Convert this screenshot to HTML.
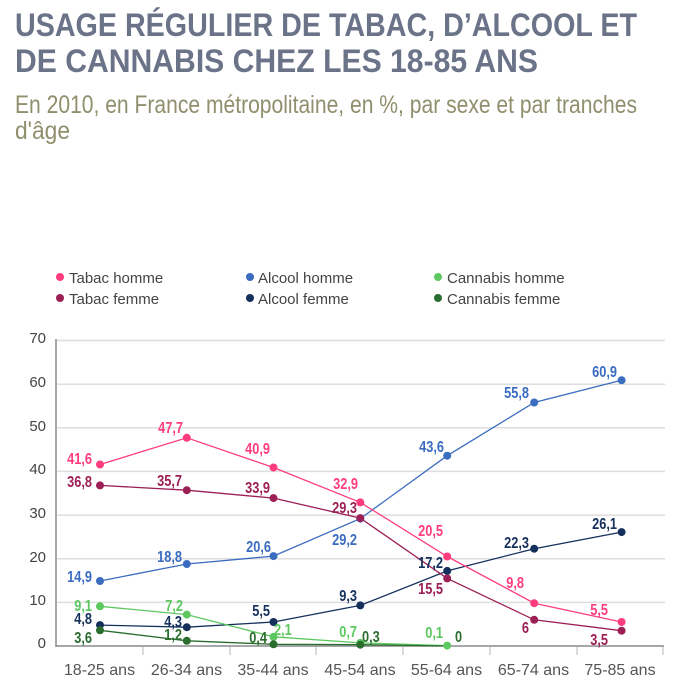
<!DOCTYPE html>
<html>
<head>
<meta charset="utf-8">
<style>
html,body{margin:0;padding:0;background:#fff;}
svg{display:block;}
.ttl{font-family:"Liberation Sans",sans-serif;font-weight:bold;font-size:32px;fill:#6b7388;}
.sub{font-family:"Liberation Sans",sans-serif;font-size:25px;fill:#8f8f6d;}
.leg{font-family:"Liberation Sans",sans-serif;font-size:15px;fill:#444;}
.ax{font-family:"Liberation Sans",sans-serif;font-size:15px;fill:#444;}
.xl{font-family:"Liberation Sans",sans-serif;font-size:16px;fill:#555;}
.lb{font-family:"Liberation Sans",sans-serif;font-weight:bold;font-size:16px;}
</style>
</head>
<body>
<svg width="700" height="700" viewBox="0 0 700 700" xmlns="http://www.w3.org/2000/svg">
<rect width="700" height="700" fill="#fff"/>
<!-- Title -->
<text class="ttl" x="15" y="36" textLength="622" lengthAdjust="spacingAndGlyphs">USAGE RÉGULIER DE TABAC, D’ALCOOL ET</text>
<text class="ttl" x="15" y="72" textLength="523" lengthAdjust="spacingAndGlyphs">DE CANNABIS CHEZ LES 18-85 ANS</text>
<text class="sub" x="15" y="113" textLength="622" lengthAdjust="spacingAndGlyphs">En 2010, en France métropolitaine, en %, par sexe et par tranches</text>
<text class="sub" x="15" y="139" textLength="55" lengthAdjust="spacingAndGlyphs">d'âge</text>

<!-- Legend -->
<circle cx="60" cy="277" r="4" fill="#ff3d7e"/><text class="leg" x="69" y="283">Tabac homme</text>
<circle cx="60" cy="298" r="4" fill="#9c1f55"/><text class="leg" x="69" y="304">Tabac femme</text>
<circle cx="250" cy="277" r="4" fill="#3a6cc0"/><text class="leg" x="258" y="283">Alcool homme</text>
<circle cx="250" cy="298" r="4" fill="#15305c"/><text class="leg" x="258" y="304">Alcool femme</text>
<circle cx="438" cy="277" r="4" fill="#5cc85f"/><text class="leg" x="447" y="283">Cannabis homme</text>
<circle cx="438" cy="298" r="4" fill="#2b6d2f"/><text class="leg" x="447" y="304">Cannabis femme</text>

<!-- Gridlines -->
<g stroke="#dedede" stroke-width="1.5">
<line x1="57" y1="340.5" x2="665" y2="340.5"/>
<line x1="57" y1="384.2" x2="665" y2="384.2"/>
<line x1="57" y1="427.8" x2="665" y2="427.8"/>
<line x1="57" y1="471.4" x2="665" y2="471.4"/>
<line x1="57" y1="515.1" x2="665" y2="515.1"/>
<line x1="57" y1="558.7" x2="665" y2="558.7"/>
<line x1="57" y1="602.4" x2="665" y2="602.4"/>
</g>
<!-- Axes -->
<line x1="56" y1="339" x2="56" y2="647" stroke="#8a8a8a" stroke-width="1.5"/>
<line x1="56" y1="646" x2="664" y2="646" stroke="#8a8a8a" stroke-width="1.5"/>
<g stroke="#cfcfcf" stroke-width="1.5">
<line x1="143" y1="647" x2="143" y2="655"/>
<line x1="230" y1="647" x2="230" y2="655"/>
<line x1="316" y1="647" x2="316" y2="655"/>
<line x1="403" y1="647" x2="403" y2="655"/>
<line x1="490" y1="647" x2="490" y2="655"/>
<line x1="577" y1="647" x2="577" y2="655"/>
<line x1="663" y1="647" x2="663" y2="655"/>
</g>
<!-- Y labels -->
<g class="ax" text-anchor="end">
<text x="46" y="343">70</text>
<text x="46" y="387">60</text>
<text x="46" y="431">50</text>
<text x="46" y="474">40</text>
<text x="46" y="518">30</text>
<text x="46" y="562">20</text>
<text x="46" y="605">10</text>
<text x="46" y="648">0</text>
</g>
<!-- X labels -->
<g class="xl" text-anchor="middle">
<text x="99.5" y="675">18-25 ans</text>
<text x="186.5" y="675">26-34 ans</text>
<text x="273" y="675">35-44 ans</text>
<text x="360" y="675">45-54 ans</text>
<text x="446.5" y="675">55-64 ans</text>
<text x="533.5" y="675">65-74 ans</text>
<text x="620" y="675">75-85 ans</text>
</g>

<!-- Series -->
<g fill="none" stroke-width="1.3">
<polyline stroke="#3a6cc0" points="100,581 186.8,564 273.5,556.1 360.3,518.6 447.2,455.7 534.2,402.5 621.6,380.2"/>
<polyline stroke="#15305c" points="100,625.1 186.8,627.2 273.5,622 360.3,605.4 447.2,570.9 534.2,548.7 621.6,532.1"/>
<polyline stroke="#5cc85f" points="100,606.3 186.8,614.6 273.5,636.8 360.3,642.9 447.2,645.6"/>
<polyline stroke="#2b6d2f" points="100,630.3 186.8,640.8 273.5,644.3 360.3,644.7 447.2,646"/>
<polyline stroke="#ff3d7e" points="100,464.5 186.8,437.8 273.5,467.5 360.3,502.4 447.2,556.5 534.2,603.2 621.6,622"/>
<polyline stroke="#9c1f55" points="100,485.4 186.8,490.2 273.5,498.1 360.3,518.1 447.2,578.4 534.2,619.8 621.6,630.7"/>
</g>
<g fill="#3a6cc0">
<circle cx="100" cy="581" r="4"/><circle cx="186.8" cy="564" r="4"/><circle cx="273.5" cy="556.1" r="4"/><circle cx="360.3" cy="518.6" r="4"/><circle cx="447.2" cy="455.7" r="4"/><circle cx="534.2" cy="402.5" r="4"/><circle cx="621.6" cy="380.2" r="4"/>
</g>
<g fill="#15305c">
<circle cx="100" cy="625.1" r="4"/><circle cx="186.8" cy="627.2" r="4"/><circle cx="273.5" cy="622" r="4"/><circle cx="360.3" cy="605.4" r="4"/><circle cx="447.2" cy="570.9" r="4"/><circle cx="534.2" cy="548.7" r="4"/><circle cx="621.6" cy="532.1" r="4"/>
</g>
<g fill="#5cc85f">
<circle cx="100" cy="606.3" r="4"/><circle cx="186.8" cy="614.6" r="4"/><circle cx="273.5" cy="636.8" r="4"/><circle cx="360.3" cy="642.9" r="4"/><circle cx="447.2" cy="645.6" r="4"/>
</g>
<g fill="#2b6d2f">
<circle cx="100" cy="630.3" r="4"/><circle cx="186.8" cy="640.8" r="4"/><circle cx="273.5" cy="644.3" r="4"/><circle cx="360.3" cy="644.7" r="4"/>
</g>
<g fill="#ff3d7e">
<circle cx="100" cy="464.5" r="4"/><circle cx="186.8" cy="437.8" r="4"/><circle cx="273.5" cy="467.5" r="4"/><circle cx="360.3" cy="502.4" r="4"/><circle cx="447.2" cy="556.5" r="4"/><circle cx="534.2" cy="603.2" r="4"/><circle cx="621.6" cy="622" r="4"/>
</g>
<g fill="#9c1f55">
<circle cx="100" cy="485.4" r="4"/><circle cx="186.8" cy="490.2" r="4"/><circle cx="273.5" cy="498.1" r="4"/><circle cx="360.3" cy="518.1" r="4"/><circle cx="447.2" cy="578.4" r="4"/><circle cx="534.2" cy="619.8" r="4"/><circle cx="621.6" cy="630.7" r="4"/>
</g>

<!-- Data labels -->
<g class="lb" text-anchor="end" fill="#ff3d7e">
<text transform="translate(92,464) scale(0.8,1)">41,6</text>
<text transform="translate(183,433) scale(0.8,1)">47,7</text>
<text transform="translate(270,454) scale(0.8,1)">40,9</text>
<text transform="translate(358,489) scale(0.8,1)">32,9</text>
<text transform="translate(443,536) scale(0.8,1)">20,5</text>
<text transform="translate(524,588) scale(0.8,1)">9,8</text>
<text transform="translate(608,615) scale(0.8,1)">5,5</text>
</g>
<g class="lb" text-anchor="end" fill="#9c1f55">
<text transform="translate(92,487) scale(0.8,1)">36,8</text>
<text transform="translate(182,486) scale(0.8,1)">35,7</text>
<text transform="translate(270,493) scale(0.8,1)">33,9</text>
<text transform="translate(357,513) scale(0.8,1)">29,3</text>
<text transform="translate(443,594) scale(0.8,1)">15,5</text>
<text transform="translate(529,633) scale(0.8,1)">6</text>
<text transform="translate(608,645) scale(0.8,1)">3,5</text>
</g>
<g class="lb" text-anchor="end" fill="#3a6cc0">
<text transform="translate(92,582) scale(0.8,1)">14,9</text>
<text transform="translate(182,562) scale(0.8,1)">18,8</text>
<text transform="translate(271,552) scale(0.8,1)">20,6</text>
<text transform="translate(357,545) scale(0.8,1)">29,2</text>
<text transform="translate(444,452) scale(0.8,1)">43,6</text>
<text transform="translate(529,398) scale(0.8,1)">55,8</text>
<text transform="translate(617,377) scale(0.8,1)">60,9</text>
</g>
<g class="lb" text-anchor="end" fill="#15305c">
<text transform="translate(92,624) scale(0.8,1)">4,8</text>
<text transform="translate(182,627) scale(0.8,1)">4,3</text>
<text transform="translate(270,616) scale(0.8,1)">5,5</text>
<text transform="translate(357,601) scale(0.8,1)">9,3</text>
<text transform="translate(443,568) scale(0.8,1)">17,2</text>
<text transform="translate(529,548) scale(0.8,1)">22,3</text>
<text transform="translate(617,529) scale(0.8,1)">26,1</text>
</g>
<g class="lb" fill="#5cc85f">
<text text-anchor="end" transform="translate(92,611) scale(0.8,1)">9,1</text>
<text text-anchor="end" transform="translate(183,611) scale(0.8,1)">7,2</text>
<text text-anchor="start" transform="translate(274,635) scale(0.8,1)">2,1</text>
<text text-anchor="end" transform="translate(357,637) scale(0.8,1)">0,7</text>
<text text-anchor="end" transform="translate(443,638) scale(0.8,1)">0,1</text>
</g>
<g class="lb" fill="#2b6d2f">
<text text-anchor="end" transform="translate(92,643) scale(0.8,1)">3,6</text>
<text text-anchor="end" transform="translate(182,640) scale(0.8,1)">1,2</text>
<text text-anchor="end" transform="translate(267,643) scale(0.8,1)">0,4</text>
<text text-anchor="start" transform="translate(362,642) scale(0.8,1)">0,3</text>
<text text-anchor="start" transform="translate(455,642) scale(0.8,1)">0</text>
</g>
</svg>
</body>
</html>
